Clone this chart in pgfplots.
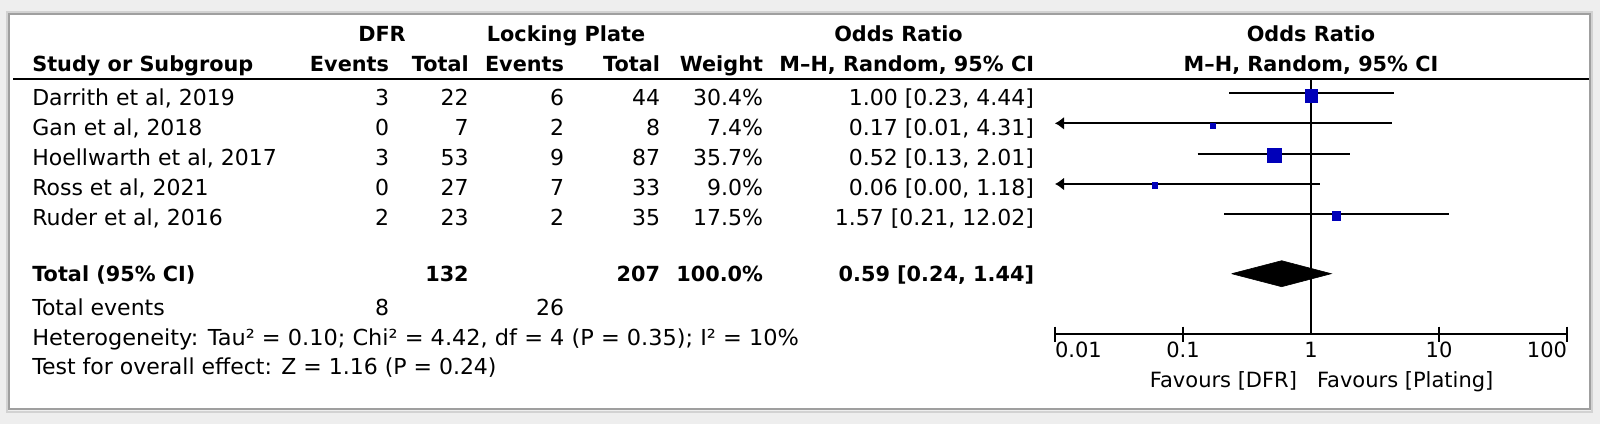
\documentclass[border=0pt]{standalone}
\usepackage{fontspec}
\setmainfont{DejaVu Sans}
\usepackage{pgfplots}
\pgfplotsset{compat=1.18}
\usepackage{pgfplotstable}
\usetikzlibrary{arrows.meta}
\definecolor{bgout}{RGB}{238,238,238}
\definecolor{sqblue}{RGB}{0,0,185}
\newcommand{\B}[1]{{\fontsize{10.4}{12}\selectfont\bfseries #1}}

% study rows: line row (pixel row), odds ratio, CI, square row, half side of square (pt)
\pgfplotstableread{
ly    or    lo    hi     my     ms
93.3  1.00  0.23  4.44   95.7   3.05
123.3 0.17  0.01  4.31   125.5  1.40
154.0 0.52  0.13  2.01   155.0  3.50
184.0 0.06  0.01  1.18   185.3  1.35
214.0 1.57  0.21  12.02  215.5  2.10
}\studies

\newcommand{\studyrow}[8]{%
 \node[anchor=base west] at (32.3,#1) {#2};
 \node[anchor=base east] at (389,#1) {#3};
 \node[anchor=base east] at (468.7,#1) {#4};
 \node[anchor=base east] at (564,#1) {#5};
 \node[anchor=base east] at (660,#1) {#6};
 \node[anchor=base east] at (763,#1) {#7};
 \node[anchor=base east] at (1034,#1) {#8};}

\begin{document}
\begin{tikzpicture}[x=0.5pt,y=-0.5pt,font=\fontsize{11}{13}\selectfont,every node/.style={inner sep=0pt,outer sep=0pt}]
\useasboundingbox (0,0) rectangle (1600,424);
\fill[bgout] (0,0) rectangle (1600,424);
\fill[white] (8,13) rectangle (1591,410);
\draw[gray!35, line width=1pt] (7,12) rectangle (1592,411.5);
\draw[gray!75, line width=0.6pt] (9,14) rectangle (1590,409);
\draw[black, line width=1pt] (13,79) -- (1589,79);

% ---- header row 1
\node[anchor=base] at (382,41.7) {\B{DFR}};
\node[anchor=base] at (566,41.7) {\B{Locking Plate}};
\node[anchor=base] at (898.5,41.7) {\B{Odds Ratio}};
\node[anchor=base] at (1311,41.7) {\B{Odds Ratio}};
% ---- header row 2
\node[anchor=base west] at (32.3,71.7) {\B{Study or Subgroup}};
\node[anchor=base east] at (389,71.7) {\B{Events}};
\node[anchor=base east] at (468.7,71.7) {\B{Total}};
\node[anchor=base east] at (564,71.7) {\B{Events}};
\node[anchor=base east] at (660,71.7) {\B{Total}};
\node[anchor=base east] at (763,71.7) {\B{Weight}};
\node[anchor=base east] at (1034,71.7) {\B{M–H, Random, 95\% CI}};
\node[anchor=base] at (1311,71.7) {\B{M–H, Random, 95\% CI}};

% ---- study rows
\studyrow{105.7}{Darrith et al, 2019}{3}{22}{6}{44}{30.4\%}{1.00 [0.23, 4.44]}
\studyrow{135.7}{Gan et al, 2018}{0}{7}{2}{8}{7.4\%}{0.17 [0.01, 4.31]}
\studyrow{165.7}{Hoellwarth et al, 2017}{3}{53}{9}{87}{35.7\%}{0.52 [0.13, 2.01]}
\studyrow{195.7}{Ross et al, 2021}{0}{27}{7}{33}{9.0\%}{0.06 [0.00, 1.18]}
\studyrow{225.5}{Ruder et al, 2016}{2}{23}{2}{35}{17.5\%}{1.57 [0.21, 12.02]}

% ---- total row
\node[anchor=base west] at (32.3,281.7) {\B{Total (95\% CI)}};
\node[anchor=base east] at (468.7,281.7) {\B{132}};
\node[anchor=base east] at (660,281.7) {\B{207}};
\node[anchor=base east] at (763,281.7) {\B{100.0\%}};
\node[anchor=base east] at (1034,281.7) {\B{0.59 [0.24, 1.44]}};
% ---- footer
\node[anchor=base west] at (32.3,315) {Total events};
\node[anchor=base east] at (389,315) {8};
\node[anchor=base east] at (564,315) {26};
\node[anchor=base west] at (32.3,345) {\scalebox{1.02}[1]{Heterogeneity: Tau² = 0.10; Chi² = 4.42, df = 4 (P = 0.35); I² = 10\%}};
\node[anchor=base west] at (32.3,374) {Test for overall effect: Z = 1.16 (P = 0.24)};

% ---- forest plot
\begin{axis}[at={(527.5pt,0pt)}, anchor=north west,
  width=256pt, height=212pt, scale only axis,
  xmode=log, xmin=0.01, xmax=100, ymin=0, ymax=424, y dir=reverse,
  hide axis, clip=false]
% line of no effect
\addplot[black, line width=0.9pt] coordinates {(1,79) (1,334)};
% horizontal axis
\addplot[black, line width=1pt] coordinates {(0.01,334) (100,334)};
\addplot[black, line width=1pt] coordinates {(0.01,326.5) (0.01,341.5)};
\addplot[black, line width=1pt] coordinates {(0.1,326.5) (0.1,341.5)};
\addplot[black, line width=1pt] coordinates {(10,326.5) (10,341.5)};
\addplot[black, line width=1pt] coordinates {(100,326.5) (100,341.5)};
\node[anchor=base west, font=\fontsize{10.5}{12}\selectfont] at (axis cs:0.01,357.5) {0.01};
\node[anchor=base, font=\fontsize{10.5}{12}\selectfont] at (axis cs:0.1,357.5) {0.1};
\node[anchor=base, font=\fontsize{10.5}{12}\selectfont] at (axis cs:1,357.5) {1};
\node[anchor=base, font=\fontsize{10.5}{12}\selectfont] at (axis cs:10,357.5) {10};
\node[anchor=base east, font=\fontsize{10.5}{12}\selectfont] at (axis cs:100,357.5) {100};
\node[anchor=base east, xshift=-7pt, font=\fontsize{10.5}{12}\selectfont] at (axis cs:1,387) {Favours [DFR]};
\node[anchor=base west, xshift=3pt, font=\fontsize{10.5}{12}\selectfont] at (axis cs:1,387) {Favours [Plating]};
% confidence intervals
\addplot[black, line width=0.85pt] coordinates {(0.23,93.3) (4.44,93.3)};
\addplot[black, line width=0.85pt, arrows={Latex[length=4.5pt,width=6.5pt]-}] coordinates {(0.01,123.3) (4.31,123.3)};
\addplot[black, line width=0.85pt] coordinates {(0.13,154) (2.01,154)};
\addplot[black, line width=0.85pt, arrows={Latex[length=4.5pt,width=6.5pt]-}] coordinates {(0.01,184) (1.18,184)};
\addplot[black, line width=0.85pt] coordinates {(0.21,214) (12.02,214)};
% squares (weight)
\addplot[scatter, only marks, mark=square*,
  scatter/use mapped color={draw=sqblue, fill=sqblue},
  visualization depends on={\thisrow{ms} \as \msz},
  scatter/@pre marker code/.append style={/tikz/mark size=\msz},
  line width=0.2pt] table[x=or, y=my] {\studies};
% pooled diamond
\addplot[fill=black, draw=black, line width=0.3pt] coordinates {(0.24,273.7) (0.59,260.7) (1.44,273.7) (0.59,286.7) (0.24,273.7)};
\end{axis}
\end{tikzpicture}
\end{document}
